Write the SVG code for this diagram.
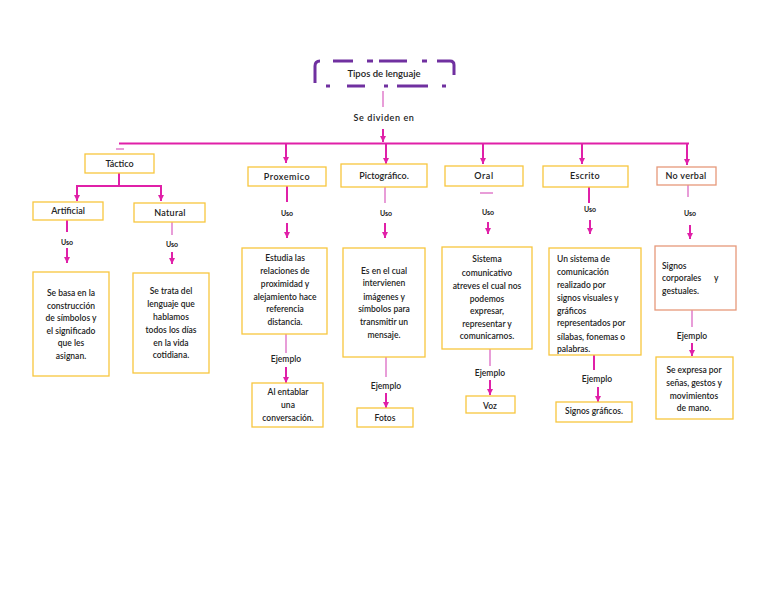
<svg xmlns="http://www.w3.org/2000/svg" width="768" height="594" viewBox="0 0 768 594">
<defs>
<marker id="ah" viewBox="0 0 6 6" refX="6" refY="3" markerWidth="6" markerHeight="6" markerUnits="userSpaceOnUse" orient="auto">
<path d="M0,0 L6,3 L0,6 Z" fill="#E020A8"/>
</marker>
<style>
text{font-family:Lato,"Liberation Sans",sans-serif;fill:#222;font-size:8.5px;font-weight:600}
.c{text-anchor:middle}
.l{font-size:9px}
.s{font-size:7px;font-weight:700}
.e{font-size:8.5px}
.box{fill:#fff;stroke:#F7C63E;stroke-width:1.3}
.obox{fill:#fff;stroke:#E6997A;stroke-width:1.3}
.m{stroke:#E020A8;stroke-width:2;fill:none}
.p{stroke:#E07CCB;stroke-width:1.5;fill:none}
.a{stroke:#E020A8;stroke-width:2;fill:none;marker-end:url(#ah)}
</style>
</defs>
<rect width="768" height="594" fill="#fff"/>

<g id="connectors">
<line class="p" x1="383" y1="91" x2="383" y2="107"/>
<line class="a" x1="383" y1="129" x2="383" y2="142"/>
<line class="m" x1="119" y1="143.5" x2="689" y2="143.5"/>
<line class="p" x1="116" y1="149" x2="124" y2="149"/>
<line class="a" x1="286" y1="144" x2="286" y2="163"/>
<line class="a" x1="386" y1="144" x2="386" y2="164"/>
<line class="a" x1="483" y1="144" x2="483" y2="164"/>
<line class="a" x1="582" y1="144" x2="582" y2="164"/>
<line class="a" x1="687" y1="144" x2="687" y2="165"/>
<line class="m" x1="119" y1="173" x2="119" y2="186"/>
<line class="m" x1="76" y1="186" x2="162" y2="186"/>
<line class="a" x1="77" y1="186" x2="77" y2="201"/>
<line class="a" x1="161" y1="186" x2="161" y2="201"/>
<line class="m" x1="67" y1="220" x2="67" y2="232"/>
<line class="a" x1="67" y1="248" x2="67" y2="263"/>
<line class="p" x1="172" y1="222" x2="172" y2="235"/>
<line class="a" x1="172" y1="252" x2="172" y2="264"/>
<line class="m" x1="287" y1="186" x2="287" y2="202"/>
<line class="a" x1="287" y1="223" x2="287" y2="238"/>
<line class="p" x1="286" y1="334" x2="286" y2="353"/>
<line class="a" x1="286" y1="367" x2="286" y2="383"/>
<line class="p" x1="385" y1="187" x2="385" y2="203"/>
<line class="a" x1="385" y1="223" x2="385" y2="238"/>
<line class="p" x1="386" y1="357" x2="386" y2="377"/>
<line class="a" x1="386" y1="393" x2="386" y2="408"/>
<line class="p" x1="480" y1="193" x2="493" y2="193"/>
<line class="a" x1="488" y1="222" x2="488" y2="234"/>
<line class="p" x1="490" y1="349" x2="490" y2="366"/>
<line class="a" x1="490" y1="380" x2="490" y2="395"/>
<line class="m" x1="589" y1="187" x2="589" y2="203"/>
<line class="a" x1="590" y1="220" x2="590" y2="234"/>
<line class="m" x1="594" y1="355" x2="594" y2="370"/>
<line class="a" x1="598" y1="387" x2="598" y2="402"/>
<line class="p" x1="688" y1="185" x2="688" y2="197"/>
<line class="a" x1="690" y1="225" x2="690" y2="239"/>
<line class="p" x1="692" y1="310" x2="692" y2="327"/>
<line class="a" x1="692" y1="343" x2="692" y2="356"/>
</g>

<g id="title">
<path d="M320,61 Q315,61 315,66 V83 M333,61 H353 M367,61 H373 M379,61 H407 M422,61 H427 M437,61 H450 Q454,61 454,65 V75 M326,86 H330 M347,86 H365 M384,86 H388 M397,86 H428 M442,86 H446" fill="none" stroke="#7030A0" stroke-width="3"/>
<text class="c" x="384" y="77" style="font-size:9.5px">Tipos de lenguaje</text>
</g>
<g id="label-divide"><text class="c" x="384" y="121" style="font-size:9px;letter-spacing:0.6px">Se dividen en</text></g>

<g id="tactico">
<rect class="box" x="85" y="154" width="69" height="19"/>
<text class="c l" x="119.5" y="167">Táctico</text>
</g>
<g id="artificial">
<rect class="box" x="33" y="202" width="70" height="18"/>
<text class="c l" x="68" y="214">Artificial</text>
<text class="c s" x="67" y="245">Uso</text>
</g>
<g id="artificial-desc">
<rect class="box" x="33" y="272" width="76" height="104"/>
<text class="c"><tspan x="71" y="296">Se basa en la</tspan><tspan x="71" y="309">construcción</tspan><tspan x="71" y="321">de símbolos y</tspan><tspan x="71" y="334">el significado</tspan><tspan x="71" y="346">que les</tspan><tspan x="71" y="359">asignan.</tspan></text>
</g>
<g id="natural">
<rect class="box" x="134" y="203" width="71" height="19"/>
<text class="c l" x="170" y="216" style="letter-spacing:0.3px">Natural</text>
<text class="c s" x="172" y="247">Uso</text>
</g>
<g id="natural-desc">
<rect class="box" x="133" y="273" width="76" height="100"/>
<text class="c"><tspan x="171" y="294">Se trata del</tspan><tspan x="171" y="307">lenguaje que</tspan><tspan x="171" y="320">hablamos</tspan><tspan x="171" y="333">todos los días</tspan><tspan x="171" y="346">en la vida</tspan><tspan x="171" y="358">cotidiana.</tspan></text>
</g>

<g id="proxemico">
<rect class="box" x="248" y="167" width="78" height="19"/>
<text class="c l" x="287" y="180" style="letter-spacing:0.5px">Proxemico</text>
<text class="c s" x="287" y="216">Uso</text>
</g>
<g id="proxemico-desc">
<rect class="box" x="242" y="248" width="85" height="86"/>
<text class="c"><tspan x="285" y="261">Estudia las</tspan><tspan x="285" y="274">relaciones de</tspan><tspan x="285" y="287">proximidad y</tspan><tspan x="285" y="300">alejamiento hace</tspan><tspan x="285" y="312">referencia</tspan><tspan x="285" y="325">distancia.</tspan></text>
<text class="c e" x="286" y="362">Ejemplo</text>
</g>
<g id="proxemico-ej">
<rect class="box" x="252" y="383" width="71" height="44"/>
<text class="c"><tspan x="288" y="395">Al entablar</tspan><tspan x="288" y="408">una</tspan><tspan x="288" y="421">conversación.</tspan></text>
</g>

<g id="pictografico">
<rect class="box" x="341" y="164" width="86" height="23"/>
<text class="c l" x="384" y="179">Pictográfico.</text>
<text class="c s" x="386" y="216">Uso</text>
</g>
<g id="pictografico-desc">
<rect class="box" x="343" y="248" width="82" height="109"/>
<text class="c"><tspan x="384" y="274">Es en el cual</tspan><tspan x="384" y="286">intervienen</tspan><tspan x="384" y="300">imágenes y</tspan><tspan x="384" y="312">símbolos para</tspan><tspan x="384" y="325">transmitir un</tspan><tspan x="384" y="338">mensaje.</tspan></text>
<text class="c e" x="386" y="389">Ejemplo</text>
</g>
<g id="pictografico-ej">
<rect class="box" x="357" y="408" width="56" height="19"/>
<text class="c" x="385" y="421">Fotos</text>
</g>

<g id="oral">
<rect class="box" x="445" y="166" width="78" height="20"/>
<text class="c l" x="484" y="179" style="letter-spacing:0.6px">Oral</text>
<text class="c s" x="488" y="215">Uso</text>
</g>
<g id="oral-desc">
<rect class="box" x="442" y="247" width="90" height="102"/>
<text class="c"><tspan x="487" y="262">Sistema</tspan><tspan x="487" y="276">comunicativo</tspan><tspan x="487" y="289">atreves el cual nos</tspan><tspan x="487" y="302">podemos</tspan><tspan x="487" y="314">expresar,</tspan><tspan x="487" y="327">representar y</tspan><tspan x="487" y="339">comunicarnos.</tspan></text>
<text class="c e" x="490" y="376">Ejemplo</text>
</g>
<g id="oral-ej">
<rect class="box" x="466" y="396" width="49" height="17"/>
<text class="c" x="490" y="409">Voz</text>
</g>

<g id="escrito">
<rect class="box" x="543" y="166" width="85" height="21"/>
<text class="c l" x="585" y="179" style="letter-spacing:0.4px">Escrito</text>
<text class="c s" x="590" y="212">Uso</text>
</g>
<g id="escrito-desc">
<rect class="box" x="549" y="248" width="92" height="107"/>
<text><tspan x="557" y="262">Un sistema de</tspan><tspan x="557" y="275">comunicación</tspan><tspan x="557" y="288">realizado por</tspan><tspan x="557" y="301">signos visuales y</tspan><tspan x="557" y="314">gráficos</tspan><tspan x="557" y="326">representados por</tspan><tspan x="557" y="340">sílabas, fonemas o</tspan><tspan x="557" y="352">palabras.</tspan></text>
<text class="c e" x="597" y="382">Ejemplo</text>
</g>
<g id="escrito-ej">
<rect class="box" x="556" y="402" width="76" height="20"/>
<text class="c" x="594" y="414">Signos gráficos.</text>
</g>

<g id="noverbal">
<rect class="obox" x="657" y="167" width="59" height="18"/>
<text class="c l" x="686" y="179" style="letter-spacing:0.3px">No verbal</text>
<text class="c s" x="690" y="216">Uso</text>
</g>
<g id="noverbal-desc">
<rect class="obox" x="655" y="246" width="81" height="64"/>
<text><tspan x="662" y="269">Signos</tspan><tspan x="662" y="281">corporales</tspan><tspan x="714" y="281">y</tspan><tspan x="662" y="294">gestuales.</tspan></text>
<text class="c e" x="692" y="339">Ejemplo</text>
</g>
<g id="noverbal-ej">
<rect class="box" x="656" y="357" width="77" height="62"/>
<text class="c"><tspan x="694" y="373">Se expresa por</tspan><tspan x="694" y="386">señas, gestos y</tspan><tspan x="694" y="399">movimientos</tspan><tspan x="694" y="411">de mano.</tspan></text>
</g>
</svg>
